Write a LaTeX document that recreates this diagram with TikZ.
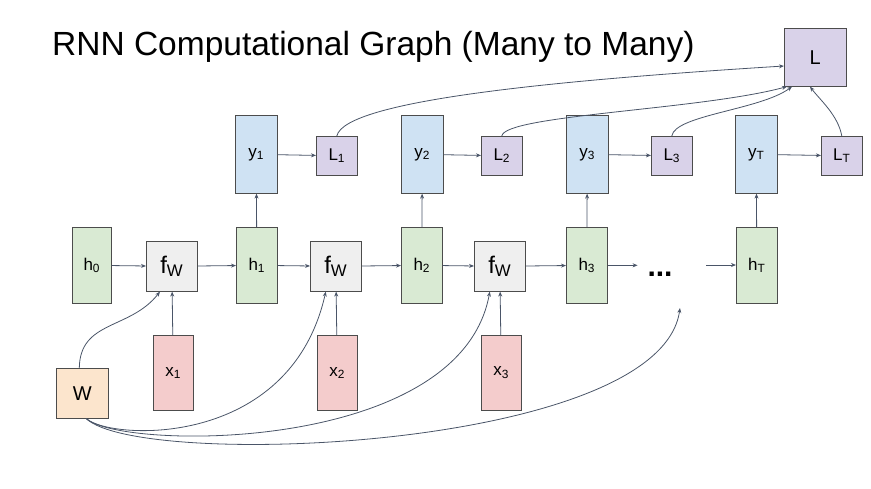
\documentclass[tikz,border=0pt]{standalone}
\usepackage{fontspec}
\setmainfont{Liberation Sans}
\usetikzlibrary{arrows.meta}
\definecolor{lc}{HTML}{4A5568}
\begin{document}
\begin{tikzpicture}[x=1pt,y=-1pt,
  bx/.style={draw=black!70,line width=0.6pt,inner sep=0pt,anchor=north west,font=\fontsize{17}{17}\selectfont},
  gr/.style={bx,fill={rgb,255:red,217;green,234;blue,211}},
  bl/.style={bx,fill={rgb,255:red,207;green,226;blue,243}},
  pu/.style={bx,fill={rgb,255:red,217;green,210;blue,233}},
  gy/.style={bx,fill={rgb,255:red,239;green,239;blue,239}},
  pk/.style={bx,fill={rgb,255:red,244;green,204;blue,204}},
  og/.style={bx,fill={rgb,255:red,252;green,229;blue,205}},
  ar/.style={draw=lc,line width=0.8pt,-{Stealth[length=5pt,width=4pt]}}]
\useasboundingbox (0,0) rectangle (871,488);
\node[anchor=west,font=\fontsize{33.5}{33.5}\selectfont,inner sep=0pt] (title) at (52,47) {RNN Computational Graph (Many to Many)};
\node[pu,minimum width=62pt,minimum height=58pt,font=\fontsize{20}{20}\selectfont] (L) at (784,28) {L};
\node[gr,minimum width=39pt,minimum height=76pt] (h0) at (72,227) {h\textsubscript{0}};
\node[gy,minimum width=51pt,minimum height=50pt] (f1) at (146,241) {\fontsize{24}{24}\selectfont f\textsubscript{W}};
\node[gr,minimum width=41pt,minimum height=76pt] (h1) at (236,227) {h\textsubscript{1}};
\node[gy,minimum width=51pt,minimum height=50pt] (f2) at (310,241) {\fontsize{24}{24}\selectfont f\textsubscript{W}};
\node[gr,minimum width=41pt,minimum height=76pt] (h2) at (401,227) {h\textsubscript{2}};
\node[gy,minimum width=51pt,minimum height=50pt] (f3) at (474,241) {\fontsize{24}{24}\selectfont f\textsubscript{W}};
\node[gr,minimum width=41pt,minimum height=76pt] (h3) at (566,227) {h\textsubscript{3}};
\node[font=\fontsize{30}{30}\selectfont\bfseries,inner sep=1pt] (dots) at (660,274) {...};
\node[gr,minimum width=41pt,minimum height=76pt] (hT) at (736,227) {h\textsubscript{T}};
\node[bl,minimum width=42pt,minimum height=78pt] (y1) at (235,115) {y\textsubscript{1}};
\node[pu,minimum width=41pt,minimum height=39pt] (L1) at (316,136) {L\textsubscript{1}};
\node[bl,minimum width=42pt,minimum height=78pt] (y2) at (401,115) {y\textsubscript{2}};
\node[pu,minimum width=41pt,minimum height=39pt] (L2) at (481,136) {L\textsubscript{2}};
\node[bl,minimum width=42pt,minimum height=78pt] (y3) at (566,115) {y\textsubscript{3}};
\node[pu,minimum width=41pt,minimum height=39pt] (L3) at (651,136) {L\textsubscript{3}};
\node[bl,minimum width=42pt,minimum height=78pt] (yT) at (735,115) {y\textsubscript{T}};
\node[pu,minimum width=41pt,minimum height=39pt] (LT) at (821,136) {L\textsubscript{T}};
\node[pk,minimum width=40pt,minimum height=75pt] (x1) at (153,335) {x\textsubscript{1}};
\node[pk,minimum width=40pt,minimum height=75pt] (x2) at (317,335) {x\textsubscript{2}};
\node[pk,minimum width=40pt,minimum height=75pt] (x3) at (481,335) {x\textsubscript{3}};
\node[og,minimum width=52pt,minimum height=50pt,font=\fontsize{20}{20}\selectfont] (W) at (56,368) {W};
\coordinate (dend) at (680,308);
\coordinate (dd) at (706,265);
\draw[ar] (h0) -- (f1);
\draw[ar] (f1) -- (h1);
\draw[ar] (h1) -- (f2);
\draw[ar] (f2) -- (h2);
\draw[ar] (h2) -- (f3);
\draw[ar] (f3) -- (h3);
\draw[ar] (h3.east) -- ++(30,0) coordinate (de);
\draw[ar] (dd) -- (hT.west|-dd);
\foreach \h/\y in {h1/y1,h2/y2,h3/y3,hT/yT}{\draw[ar] (\h) -- (\y);}
\foreach \y/\l in {y1/L1,y2/L2,y3/L3,yT/LT}{\draw[ar] (\y) -- (\l);}
\foreach \x/\f in {x1/f1,x2/f2,x3/f3}{\draw[ar] (\x) -- (\f);}
\draw[ar] (L1.north) .. controls (345,100) and (560,80) .. (L.west|-0,66);
\draw[ar] (L2.north) .. controls (505,115) and (700,110) .. ([xshift=3pt]L.south west);
\draw[ar] (L3.north) .. controls (675,115) and (760,110) .. ([xshift=8pt]L.south west);
\draw[ar] (LT.north) .. controls (838,115) and (820,100) .. ([xshift=26pt]L.south west);
\draw[ar] ([xshift=-3pt]W.north) .. controls (80,320) and (130,330) .. ([xshift=14pt]f1.south west);
\draw[ar] ([xshift=4pt]W.south) .. controls (110,440) and (290,450) .. ([xshift=-10pt]f2.south);
\draw[ar] ([xshift=4pt]W.south) .. controls (120,450) and (460,455) .. ([xshift=-10pt]f3.south);
\draw[ar] ([xshift=4pt]W.south) .. controls (140,470) and (660,450) .. (dend);
\end{tikzpicture}
\end{document}
